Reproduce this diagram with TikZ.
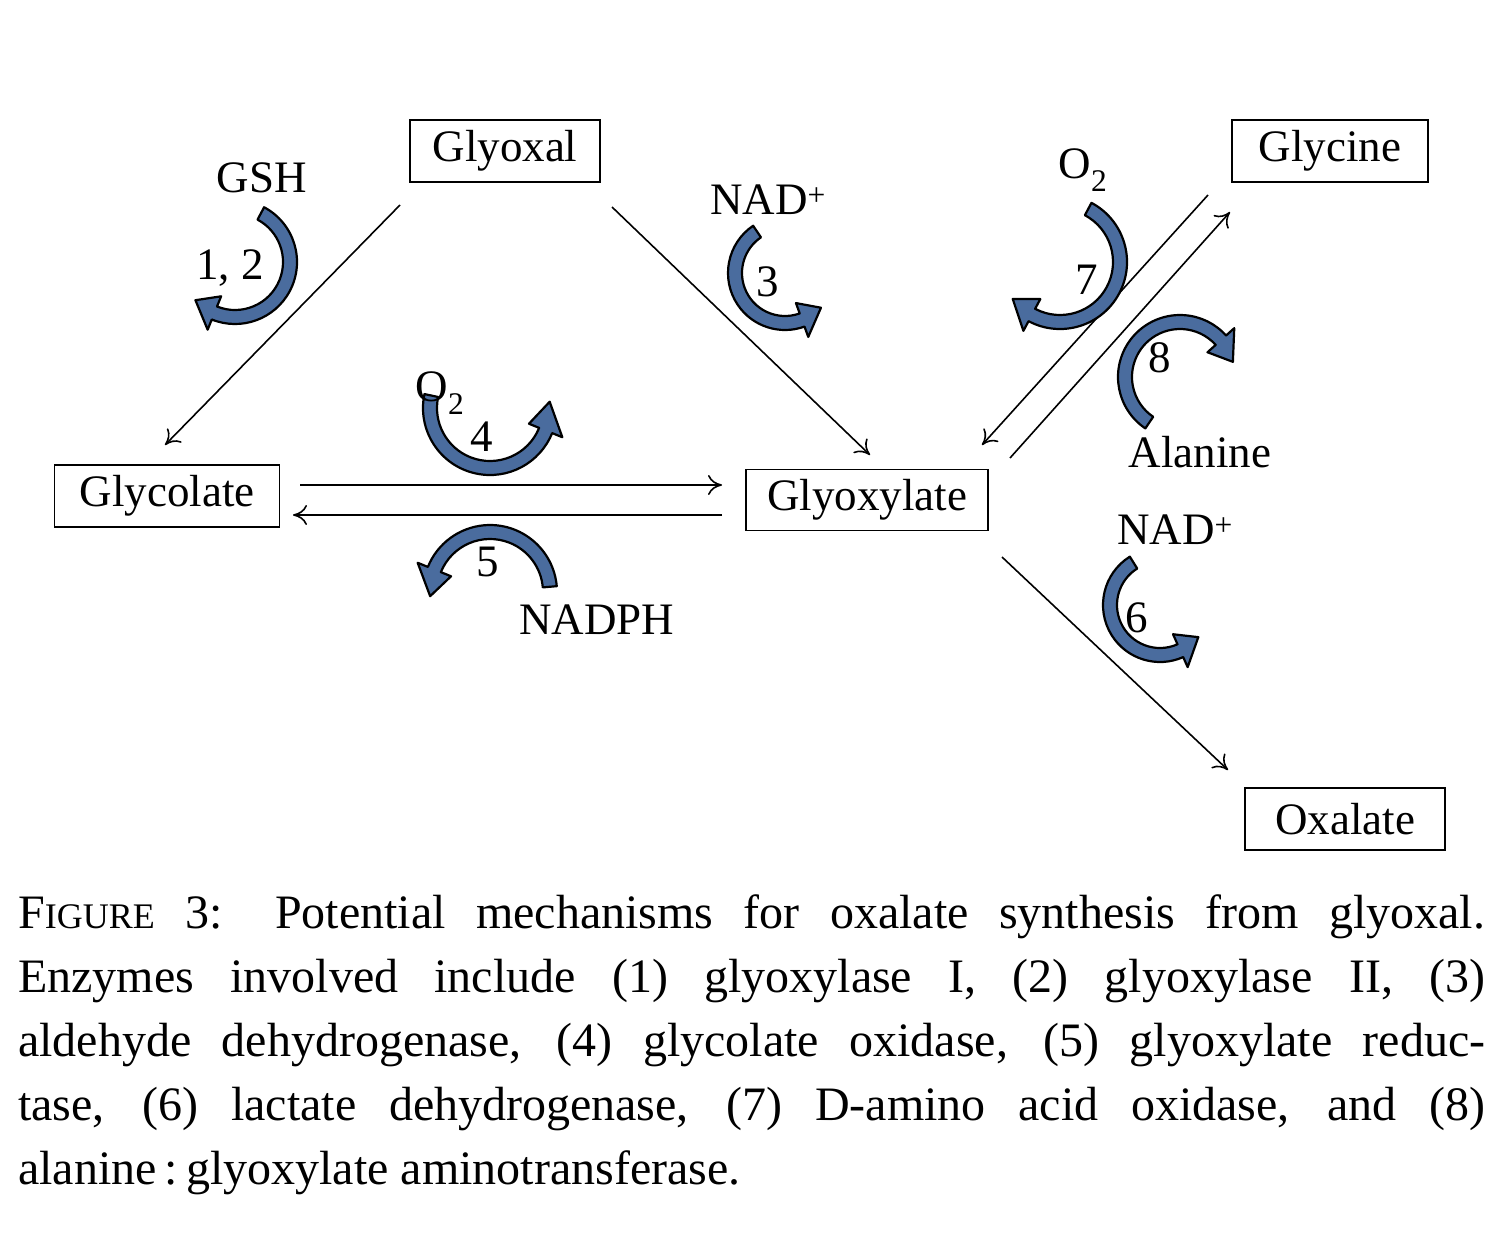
\documentclass[tikz,border=0pt]{standalone}
\usepackage{fontspec}
\setmainfont{Liberation Serif}
\usetikzlibrary{arrows.meta,calc}
\definecolor{cArrow}{RGB}{74,108,158}
\newcommand{\carr}[5]{% center, r, a1, a2, d
  \filldraw[fill=cArrow, draw=black, line width=2.2pt, line join=round]
   ($#1+(#3:#2+7)$) arc[start angle=#3,end angle=#4,radius=#2+7]
   -- ($#1+(#4:#2+18)$) -- ($#1+(#4+#5:#2)$) -- ($#1+(#4:#2-18)$) -- ($#1+(#4:#2-7)$)
   arc[start angle=#4,end angle=#3,radius=#2-7] -- cycle;}
\begin{document}
\begin{tikzpicture}[x=1pt,y=-1pt,
  box/.style={draw,line width=1.6pt,inner sep=0pt,font=\fontsize{45}{50}\selectfont},
  lbl/.style={font=\fontsize{45}{50}\selectfont,inner sep=0pt},
  rx/.style={-{To[length=14pt,width=20pt]},line width=1.6pt}]
\useasboundingbox (0,0) rectangle (1504,1250);
\node[box,minimum width=190pt,minimum height=62pt] (glyoxal) at (505,151) {Glyoxal};
\node[box,minimum width=196pt,minimum height=62pt] (glycine) at (1330,151) {Glycine};
\node[box,minimum width=225pt,minimum height=62pt] (glycolate) at (167,496) {Glycolate};
\node[box,minimum width=242pt,minimum height=61pt] (glyoxylate) at (867,500) {Glyoxylate};
\node[box,minimum width=200pt,minimum height=62pt] (oxalate) at (1345,819) {Oxalate};
\coordinate (a1) at (400,205); \coordinate (a2) at (165,445);
\coordinate (b1) at (612,207); \coordinate (b2) at (870,455);
\coordinate (c1) at (300,485); \coordinate (c2) at (722,485);
\coordinate (d1) at (722,515); \coordinate (d2) at (293,515);
\coordinate (e1) at (1010,458); \coordinate (e2) at (1230,212);
\coordinate (f1) at (1208,195); \coordinate (f2) at (982,445);
\coordinate (g1) at (1002,557); \coordinate (g2) at (1228,770);
\draw[rx] (a1) -- (a2);
\draw[rx] (b1) -- (b2);
\draw[rx] (c1) -- (c2);
\draw[rx] (d1) -- (d2);
\draw[rx] (e1) -- (e2);
\draw[rx] (f1) -- (f2);
\draw[rx] (g1) -- (g2);
\carr{(235,262)}{55}{-62}{112}{24}
\carr{(785,273)}{50}{236}{70}{-26}
\carr{(490,408)}{60}{192}{22}{-28}
\carr{(490,592)}{60}{-5}{-158}{-26}
\carr{(1060,262)}{60}{-62}{118}{24}
\carr{(1180,377)}{55}{124}{318}{26}
\carr{(1160,605)}{50}{238}{66}{-26}
\node[lbl] (gsh) at (262,178) {GSH};
\node[lbl] (n12) at (230,268) {1, 2};
\node[lbl] (nad1) at (768,200) {NAD\textsuperscript{+}};
\node[lbl] (n3) at (768,282) {3};
\node[lbl] (o2a) at (440,393) {O\textsubscript{2}};
\node[lbl] (n4) at (482,437) {4};
\node[lbl] (n5) at (488,562) {5};
\node[lbl] (nadph) at (597,620) {NADPH};
\node[lbl] (o2b) at (1083,170) {O\textsubscript{2}};
\node[lbl] (n7) at (1087,280) {7};
\node[lbl] (n8) at (1160,358) {8};
\node[lbl] (ala) at (1200,452) {Alanine};
\node[lbl] (nad2) at (1175,530) {NAD\textsuperscript{+}};
\node[lbl] (n6) at (1137,618) {6};
\node[anchor=north west,inner sep=0pt,text width=1467pt,align=justify,
  font=\fontsize{48}{64}\selectfont] (cap) at (18,894)
{F{\fontsize{36}{64}\selectfont IGURE} 3: Potential mechanisms for oxalate synthesis from glyoxal.\linebreak
Enzymes involved include (1) glyoxylase I, (2) glyoxylase II, (3)\linebreak
aldehyde dehydrogenase, (4) glycolate oxidase, (5) glyoxylate reduc-\linebreak
tase, (6) lactate dehydrogenase, (7) D-amino acid oxidase, and (8)\linebreak
alanine\,:\,glyoxylate aminotransferase.};
\end{tikzpicture}
\end{document}
